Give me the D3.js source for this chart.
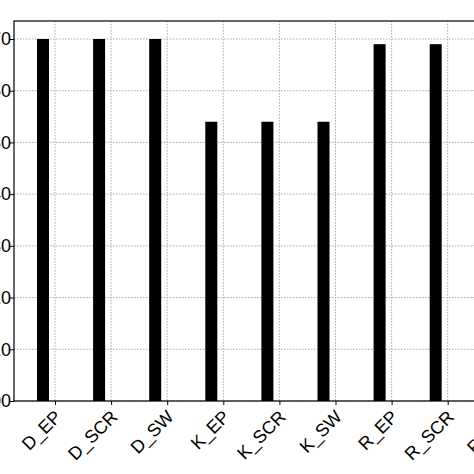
<!DOCTYPE html><html><head><meta charset="utf-8"><script src="https://cdn.jsdelivr.net/npm/d3@7"></script>
<style>body{margin:0;background:#fff}svg{display:block}</style></head><body><svg id="c" width="474" height="474"></svg>
<script>
const categories=["D_EP","D_SCR","D_SW","K_EP","K_SCR","K_SW","R_EP","R_SCR","R_SW"];
const values=[0.70,0.70,0.70,0.54,0.54,0.54,0.69,0.69,0.69];
const yTicks=[0,0.1,0.2,0.3,0.4,0.5,0.6,0.7];
const svg=d3.select("#c");
const L=14,T=21,R=540,B=401;
const x=d3.scalePoint().domain(categories).range([55,55+8*56.1]);
const y=d3.scaleLinear().domain([0,0.7]).range([B,39]);
const g=svg.append("g");
g.selectAll(".gx").data(categories).join("line").attr("x1",d=>x(d)).attr("x2",d=>x(d)).attr("y1",T).attr("y2",B).attr("stroke","#aaa").attr("stroke-dasharray","1.5,1.5");
g.selectAll(".gy").data(yTicks).join("line").attr("x1",L).attr("x2",R).attr("y1",d=>y(d)).attr("y2",d=>y(d)).attr("stroke","#aaa").attr("stroke-dasharray","1.5,1.5");
g.selectAll("rect.bar").data(categories).join("rect").attr("x",d=>x(d)-18).attr("width",12).attr("y",(d,i)=>y(values[i])).attr("height",(d,i)=>B-y(values[i])).attr("fill","#000");
g.append("rect").attr("x",L).attr("y",T).attr("width",R-L).attr("height",B-T).attr("fill","none").attr("stroke","#000").attr("stroke-width",1.2);
const ya=svg.append("g").attr("transform",`translate(${L},0)`).call(d3.axisLeft(y).tickValues(yTicks).tickFormat(d3.format(".2f")).tickSize(4));
ya.select(".domain").remove();
ya.selectAll("text").attr("font-family","Liberation Sans, Arial").attr("font-size",18).attr("fill","#000").attr("x",-3);
const xa=svg.append("g").attr("transform",`translate(0,${B})`).call(d3.axisBottom(x).tickSize(4));
xa.select(".domain").remove();
xa.selectAll("text").attr("font-family","Liberation Sans, Arial").attr("font-size",18).attr("fill","#000")
 .attr("text-anchor","end").attr("dy",0).attr("y",0).attr("transform","translate(7,17) rotate(-45)");
</script></body></html>
